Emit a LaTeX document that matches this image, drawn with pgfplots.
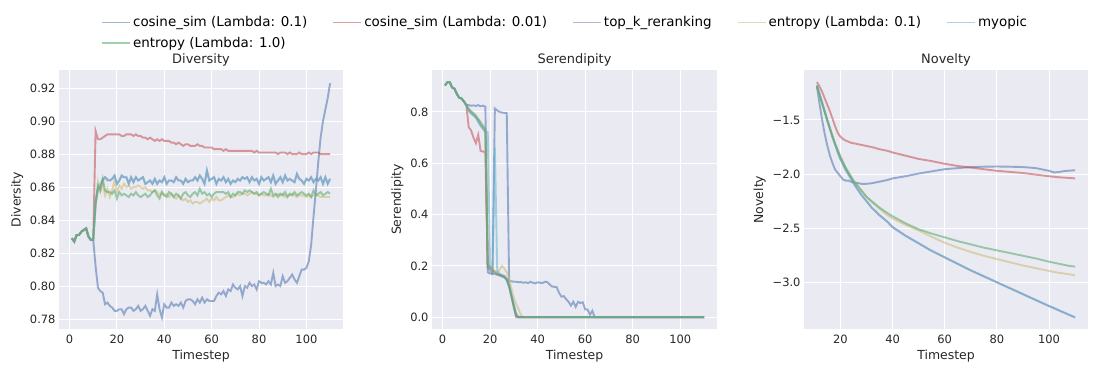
\documentclass[border=0pt]{standalone}
\usepackage{fontspec}
\setmainfont{DejaVu Sans}
\usepackage{pgfplots}
\usepackage{pgfplotstable}
\pgfplotsset{compat=1.18}
\definecolor{bgc}{HTML}{EAEAF2}
\definecolor{tickc}{HTML}{262626}
\definecolor{cblue}{HTML}{4C72B0}
\definecolor{cred}{HTML}{C44E52}
\definecolor{cpurple}{HTML}{8172B2}
\definecolor{cyellow}{HTML}{CCB974}
\definecolor{ccyan}{HTML}{64B5CD}
\definecolor{cgreen}{HTML}{55A868}

\pgfplotstableread{
t cA cB tk e01 my e10
1 0.829 0.829 0.829 0.829 0.829 0.829
2 0.827 0.827 0.827 0.827 0.827 0.827
3 0.831 0.831 0.831 0.831 0.831 0.831
4 0.831 0.831 0.831 0.831 0.831 0.831
5 0.833 0.833 0.833 0.833 0.833 0.833
6 0.834 0.834 0.834 0.834 0.834 0.834
7 0.835 0.835 0.835 0.835 0.835 0.835
8 0.830 0.830 0.830 0.830 0.830 0.830
9 0.828 0.828 0.828 0.828 0.828 0.828
10 0.828 0.828 0.828 0.828 0.828 0.828
11 0.812 0.894 0.850 0.848 0.852 0.850
12 0.799 0.889 0.858 0.863 0.860 0.861
13 0.797 0.889 0.860 0.857 0.862 0.858
14 0.796 0.890 0.864 0.862 0.865 0.865
15 0.789 0.891 0.866 0.855 0.866 0.858
16 0.790 0.892 0.864 0.859 0.865 0.857
17 0.788 0.892 0.864 0.854 0.864 0.857
18 0.787 0.892 0.865 0.858 0.865 0.856
19 0.785 0.892 0.867 0.864 0.867 0.858
20 0.785 0.892 0.862 0.857 0.862 0.853
21 0.786 0.892 0.864 0.861 0.864 0.857
22 0.786 0.891 0.867 0.859 0.867 0.855
23 0.783 0.891 0.866 0.862 0.866 0.856
24 0.786 0.892 0.866 0.860 0.866 0.855
25 0.787 0.892 0.862 0.861 0.862 0.854
26 0.787 0.892 0.866 0.859 0.866 0.856
27 0.785 0.891 0.863 0.860 0.863 0.855
28 0.786 0.892 0.866 0.860 0.866 0.857
29 0.788 0.891 0.864 0.861 0.864 0.855
30 0.785 0.891 0.865 0.860 0.865 0.854
31 0.786 0.890 0.866 0.859 0.866 0.855
32 0.788 0.890 0.862 0.860 0.862 0.856
33 0.785 0.889 0.863 0.858 0.863 0.854
34 0.782 0.890 0.864 0.858 0.864 0.855
35 0.786 0.889 0.862 0.857 0.862 0.857
36 0.785 0.888 0.865 0.858 0.865 0.858
37 0.795 0.889 0.862 0.857 0.862 0.855
38 0.786 0.888 0.864 0.855 0.864 0.853
39 0.781 0.889 0.863 0.857 0.863 0.857
40 0.789 0.888 0.866 0.855 0.866 0.855
41 0.787 0.888 0.862 0.856 0.862 0.854
42 0.787 0.888 0.864 0.854 0.864 0.857
43 0.790 0.887 0.864 0.856 0.864 0.856
44 0.788 0.887 0.863 0.854 0.863 0.854
45 0.789 0.886 0.866 0.853 0.866 0.856
46 0.788 0.887 0.864 0.855 0.864 0.855
47 0.790 0.886 0.864 0.853 0.864 0.853
48 0.787 0.885 0.862 0.852 0.862 0.856
49 0.791 0.886 0.865 0.853 0.865 0.857
50 0.792 0.886 0.863 0.851 0.863 0.855
51 0.792 0.885 0.864 0.852 0.864 0.854
52 0.791 0.885 0.864 0.850 0.864 0.856
53 0.789 0.885 0.866 0.851 0.866 0.857
54 0.792 0.886 0.864 0.851 0.864 0.855
55 0.790 0.885 0.867 0.850 0.867 0.859
56 0.793 0.885 0.865 0.851 0.865 0.856
57 0.790 0.884 0.862 0.852 0.862 0.857
58 0.792 0.884 0.870 0.853 0.870 0.855
59 0.791 0.884 0.864 0.851 0.864 0.856
60 0.791 0.884 0.865 0.853 0.865 0.854
61 0.791 0.883 0.866 0.852 0.866 0.856
62 0.794 0.883 0.862 0.854 0.862 0.857
63 0.796 0.883 0.865 0.852 0.865 0.857
64 0.795 0.883 0.864 0.852 0.864 0.857
65 0.797 0.882 0.866 0.853 0.866 0.857
66 0.794 0.883 0.863 0.854 0.863 0.856
67 0.798 0.882 0.865 0.855 0.865 0.857
68 0.797 0.882 0.862 0.854 0.862 0.854
69 0.801 0.882 0.864 0.854 0.864 0.856
70 0.799 0.882 0.863 0.855 0.863 0.855
71 0.798 0.882 0.865 0.856 0.865 0.857
72 0.800 0.882 0.864 0.855 0.864 0.857
73 0.794 0.882 0.866 0.856 0.866 0.856
74 0.800 0.882 0.865 0.856 0.865 0.858
75 0.799 0.882 0.866 0.855 0.866 0.857
76 0.802 0.882 0.863 0.856 0.863 0.858
77 0.800 0.882 0.866 0.857 0.866 0.857
78 0.801 0.881 0.864 0.856 0.864 0.856
79 0.798 0.882 0.865 0.856 0.865 0.857
80 0.803 0.881 0.862 0.855 0.862 0.855
81 0.802 0.881 0.866 0.856 0.866 0.856
82 0.802 0.881 0.864 0.855 0.864 0.857
83 0.801 0.881 0.865 0.855 0.865 0.856
84 0.803 0.881 0.866 0.856 0.866 0.855
85 0.801 0.881 0.863 0.855 0.863 0.859
86 0.808 0.881 0.867 0.854 0.867 0.855
87 0.800 0.881 0.862 0.855 0.862 0.856
88 0.801 0.880 0.864 0.856 0.864 0.854
89 0.800 0.881 0.866 0.855 0.866 0.856
90 0.806 0.881 0.863 0.856 0.863 0.855
91 0.802 0.881 0.867 0.854 0.867 0.857
92 0.803 0.880 0.864 0.855 0.864 0.854
93 0.805 0.881 0.865 0.855 0.865 0.856
94 0.807 0.880 0.864 0.856 0.864 0.855
95 0.804 0.880 0.863 0.855 0.863 0.857
96 0.802 0.880 0.868 0.854 0.868 0.855
97 0.806 0.881 0.865 0.855 0.865 0.856
98 0.810 0.880 0.864 0.855 0.864 0.857
99 0.810 0.880 0.862 0.855 0.862 0.856
100 0.811 0.880 0.865 0.854 0.865 0.855
101 0.815 0.881 0.864 0.855 0.864 0.856
102 0.825 0.880 0.866 0.854 0.866 0.854
103 0.842 0.881 0.863 0.855 0.863 0.858
104 0.858 0.881 0.865 0.855 0.865 0.855
105 0.875 0.881 0.864 0.855 0.864 0.856
106 0.890 0.880 0.866 0.854 0.866 0.857
107 0.900 0.880 0.862 0.854 0.862 0.855
108 0.907 0.880 0.866 0.854 0.866 0.856
109 0.914 0.880 0.862 0.854 0.862 0.857
110 0.923 0.880 0.865 0.854 0.865 0.856
}\divtab

\pgfplotstableread{
t cA cB tk e01 my e10
1 0.903 0.903 0.903 0.903 0.903 0.903
2 0.915 0.915 0.915 0.915 0.915 0.915
3 0.916 0.916 0.916 0.916 0.916 0.916
4 0.895 0.895 0.895 0.895 0.895 0.895
5 0.890 0.890 0.890 0.890 0.890 0.890
6 0.870 0.870 0.870 0.870 0.870 0.870
7 0.855 0.855 0.855 0.855 0.855 0.855
8 0.852 0.852 0.852 0.852 0.852 0.852
9 0.840 0.840 0.840 0.840 0.840 0.840
10 0.826 0.826 0.826 0.826 0.826 0.826
11 0.826 0.740 0.805 0.810 0.805 0.812
12 0.824 0.728 0.795 0.800 0.793 0.802
13 0.825 0.700 0.788 0.792 0.785 0.795
14 0.823 0.678 0.778 0.782 0.778 0.785
15 0.826 0.710 0.765 0.770 0.760 0.772
16 0.822 0.648 0.748 0.755 0.745 0.760
17 0.824 0.645 0.735 0.742 0.735 0.745
18 0.820 0.645 0.722 0.728 0.725 0.732
19 0.175 0.205 0.195 0.210 0.720 0.200
20 0.170 0.195 0.180 0.195 0.200 0.190
21 0.168 0.185 0.170 0.185 0.190 0.180
22 0.813 0.178 0.168 0.178 0.660 0.172
23 0.805 0.170 0.165 0.175 0.180 0.168
24 0.800 0.165 0.162 0.185 0.170 0.165
25 0.797 0.163 0.158 0.200 0.165 0.160
26 0.796 0.160 0.155 0.190 0.160 0.155
27 0.795 0.150 0.145 0.175 0.150 0.145
28 0.140 0.125 0.120 0.150 0.125 0.118
29 0.140 0.085 0.080 0.110 0.085 0.078
30 0.138 0.040 0.040 0.075 0.050 0.040
31 0.138 0.000 0.003 0.050 0.010 0.012
32 0.136 0.000 0.000 0.030 0.000 0.000
33 0.137 0.000 0.000 0.008 0.000 0.000
34 0.134 0.000 0.000 0.000 0.000 0.000
35 0.136 0.000 0.000 0.000 0.000 0.000
36 0.133 0.000 0.000 0.000 0.000 0.000
37 0.138 0.000 0.000 0.000 0.000 0.000
38 0.134 0.000 0.000 0.000 0.000 0.000
39 0.132 0.000 0.000 0.000 0.000 0.000
40 0.136 0.000 0.000 0.000 0.000 0.000
41 0.134 0.000 0.000 0.000 0.000 0.000
42 0.133 0.000 0.000 0.000 0.000 0.000
43 0.138 0.000 0.000 0.000 0.000 0.000
44 0.137 0.000 0.000 0.000 0.000 0.000
45 0.128 0.000 0.000 0.000 0.000 0.000
46 0.120 0.000 0.000 0.000 0.000 0.000
47 0.118 0.000 0.000 0.000 0.000 0.000
48 0.117 0.000 0.000 0.000 0.000 0.000
49 0.095 0.000 0.000 0.000 0.000 0.000
50 0.080 0.000 0.000 0.000 0.000 0.000
51 0.082 0.000 0.000 0.000 0.000 0.000
52 0.070 0.000 0.000 0.000 0.000 0.000
53 0.060 0.000 0.000 0.000 0.000 0.000
54 0.045 0.000 0.000 0.000 0.000 0.000
55 0.060 0.000 0.000 0.000 0.000 0.000
56 0.040 0.000 0.000 0.000 0.000 0.000
57 0.060 0.000 0.000 0.000 0.000 0.000
58 0.055 0.000 0.000 0.000 0.000 0.000
59 0.058 0.000 0.000 0.000 0.000 0.000
60 0.030 0.000 0.000 0.000 0.000 0.000
61 0.030 0.000 0.000 0.000 0.000 0.000
62 0.010 0.000 0.000 0.000 0.000 0.000
63 0.025 0.000 0.000 0.000 0.000 0.000
64 0.000 0.000 0.000 0.000 0.000 0.000
110 0.000 0.000 0.000 0.000 0.000 0.000
}\sertab

\pgfplotstableread{
t cA cB tk e01 my e10
11 -1.19 -1.15 -1.18 -1.19 -1.18 -1.19
12 -1.35 -1.19 -1.26 -1.27 -1.26 -1.27
13 -1.50 -1.24 -1.34 -1.35 -1.34 -1.35
14 -1.63 -1.30 -1.42 -1.43 -1.42 -1.43
15 -1.74 -1.36 -1.50 -1.51 -1.50 -1.51
16 -1.83 -1.42 -1.58 -1.58 -1.58 -1.58
17 -1.90 -1.49 -1.66 -1.65 -1.66 -1.65
18 -1.96 -1.56 -1.73 -1.72 -1.73 -1.72
19 -1.99 -1.62 -1.80 -1.78 -1.80 -1.78
20 -2.02 -1.655 -1.86 -1.84 -1.86 -1.84
21 -2.05 -1.675 -1.91 -1.89 -1.91 -1.89
22 -2.06 -1.69 -1.96 -1.94 -1.96 -1.94
23 -2.06 -1.70 -2.00 -1.98 -2.00 -1.98
24 -2.07 -1.71 -2.04 -2.02 -2.04 -2.02
25 -2.08 -1.715 -2.08 -2.06 -2.08 -2.06
26 -2.08 -1.72 -2.12 -2.09 -2.12 -2.09
28 -2.09 -1.73 -2.19 -2.15 -2.19 -2.15
30 -2.09 -1.74 -2.25 -2.21 -2.25 -2.21
32 -2.085 -1.75 -2.31 -2.26 -2.31 -2.25
35 -2.07 -1.77 -2.38 -2.32 -2.38 -2.31
38 -2.055 -1.785 -2.44 -2.38 -2.44 -2.36
40 -2.04 -1.80 -2.49 -2.41 -2.49 -2.39
45 -2.02 -1.83 -2.57 -2.47 -2.57 -2.455
50 -1.995 -1.86 -2.64 -2.52 -2.64 -2.51
55 -1.975 -1.88 -2.71 -2.58 -2.71 -2.55
60 -1.955 -1.905 -2.77 -2.635 -2.77 -2.585
65 -1.945 -1.925 -2.83 -2.68 -2.83 -2.62
70 -1.935 -1.94 -2.89 -2.72 -2.89 -2.65
75 -1.932 -1.955 -2.945 -2.755 -2.945 -2.68
80 -1.93 -1.97 -3.00 -2.785 -3.00 -2.705
85 -1.932 -1.98 -3.055 -2.815 -3.055 -2.73
90 -1.935 -1.99 -3.11 -2.845 -3.11 -2.755
95 -1.945 -2.005 -3.165 -2.87 -3.165 -2.78
100 -1.97 -2.02 -3.22 -2.895 -3.22 -2.81
102 -1.985 -2.025 -3.24 -2.905 -3.24 -2.82
104 -1.98 -2.03 -3.262 -2.913 -3.262 -2.83
106 -1.972 -2.033 -3.283 -2.92 -3.283 -2.84
108 -1.968 -2.036 -3.304 -2.927 -3.304 -2.85
110 -1.965 -2.04 -3.325 -2.935 -3.325 -2.855
}\novtab

\pgfplotsset{
  sns/.style={
    scale only axis, width=284bp, height=259bp,
    axis background/.style={fill=bgc},
    axis line style={draw=none},
    grid=major, grid style={white, line width=1bp},
    major tick length=0pt,
    tick label style={font=\fontsize{11.5}{13}\selectfont, text=tickc},
    xticklabel style={yshift=-2bp},
    label style={font=\fontsize{12.5}{14}\selectfont, text=tickc},
    title style={font=\fontsize{13}{15}\selectfont, text=tickc, yshift=-6bp},
    /pgf/number format/assume math mode=true,
    every axis plot/.append style={line width=1.9bp, draw opacity=0.55, mark=none},
    xlabel={Timestep},
    legend image code/.code={\draw[#1] (0bp,0bp) -- (28bp,0bp);},
  },
}

\begin{document}
\begin{tikzpicture}
\useasboundingbox (0,0) rectangle (1095bp,371bp);
\begin{axis}[sns, at={(59bp,42bp)}, anchor=south west,
  title={Diversity}, ylabel={Diversity},
  xmin=-4.45, xmax=115.45, ymin=0.774, ymax=0.931,
  xtick={0,20,40,60,80,100},
  ytick={0.78,0.80,0.82,0.84,0.86,0.88,0.90,0.92},
  yticklabel style={/pgf/number format/.cd, fixed, fixed zerofill, precision=2},
  legend columns=5,
  legend cell align=left,
  legend style={at={(1.782,1.222)}, anchor=north, draw=none, fill=none,
    font=\fontsize{13.5}{15}\selectfont,
    /tikz/every even column/.append style={column sep=23bp},
    row sep=5bp},
]
\addplot[cblue] table[x=t,y=cA] {\divtab};
\addlegendentry{cosine\_sim (Lambda: 0.1)}
\addplot[cred] table[x=t,y=cB] {\divtab};
\addlegendentry{cosine\_sim (Lambda: 0.01)}
\addplot[cpurple] table[x=t,y=tk] {\divtab};
\addlegendentry{top\_k\_reranking}
\addplot[cyellow] table[x=t,y=e01] {\divtab};
\addlegendentry{entropy (Lambda: 0.1)}
\addplot[ccyan] table[x=t,y=my] {\divtab};
\addlegendentry{myopic}
\addplot[cgreen] table[x=t,y=e10] {\divtab};
\addlegendentry{entropy (Lambda: 1.0)}
\end{axis}

\begin{axis}[sns, at={(432bp,42bp)}, anchor=south west, width=285bp,
  title={Serendipity}, ylabel={Serendipity},
  xmin=-4.45, xmax=115.45, ymin=-0.046, ymax=0.963,
  xtick={0,20,40,60,80,100},
  ytick={0,0.2,0.4,0.6,0.8},
  yticklabel style={/pgf/number format/.cd, fixed, fixed zerofill, precision=1},
]
\addplot[cblue] table[x=t,y=cA] {\sertab};
\addplot[cred] table[x=t,y=cB] {\sertab};
\addplot[cpurple] table[x=t,y=tk] {\sertab};
\addplot[cyellow] table[x=t,y=e01] {\sertab};
\addplot[ccyan] table[x=t,y=my] {\sertab};
\addplot[cgreen] table[x=t,y=e10] {\sertab};
\end{axis}

\begin{axis}[sns, at={(804bp,42bp)}, anchor=south west,
  title={Novelty}, ylabel={Novelty},
  xmin=6.05, xmax=114.95, ymin=-3.432, ymax=-1.038,
  xtick={20,40,60,80,100},
  ytick={-3,-2.5,-2,-1.5},
  yticklabels={−3.0,−2.5,−2.0,−1.5},
]
\addplot[cblue] table[x=t,y=cA] {\novtab};
\addplot[cred] table[x=t,y=cB] {\novtab};
\addplot[cpurple] table[x=t,y=tk] {\novtab};
\addplot[cyellow] table[x=t,y=e01] {\novtab};
\addplot[ccyan] table[x=t,y=my] {\novtab};
\addplot[cgreen] table[x=t,y=e10] {\novtab};
\end{axis}
\end{tikzpicture}
\end{document}
